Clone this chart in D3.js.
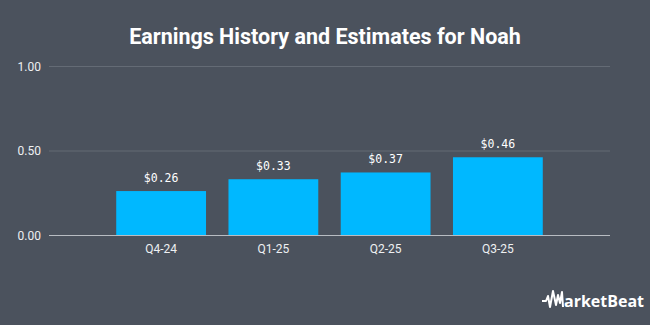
<!DOCTYPE html>
<html>
<head>
<meta charset="utf-8">
<script src="https://cdn.jsdelivr.net/npm/d3@7"></script>
<style>
  html, body { margin: 0; padding: 0; background: #4b525d; }
  svg { display: block; }
</style>
</head>
<body>
<div id="chart"></div>
<script>
const quarters = ["Q4-24", "Q1-25", "Q2-25", "Q3-25"];
const eps = [0.26, 0.33, 0.37, 0.46];
const yTicks = [0, 0.5, 1.0];

const width = 650, height = 325;
const svg = d3.select("#chart").append("svg")
    .attr("width", width)
    .attr("height", height);

svg.append("rect").attr("width", width).attr("height", height).attr("fill", "#4b525d");

svg.append("text")
    .attr("x", width / 2)
    .attr("y", 44)
    .attr("text-anchor", "middle")
    .attr("fill", "#ffffff")
    .style("font-family", "Roboto, 'Liberation Sans', sans-serif")
    .style("font-weight", "bold")
    .style("font-size", "21.5px")
    .text("Earnings History and Estimates for Noah");

const xScale = d3.scaleBand()
    .domain(quarters)
    .range([105, 554])
    .paddingInner(0.2)
    .paddingOuter(0.1);

const yScale = d3.scaleLinear()
    .domain([0, 1])
    .range([235, 66]);

// gridlines
svg.append("g").selectAll("line")
    .data(yTicks.filter(d => d > 0))
    .enter().append("line")
    .attr("x1", 49).attr("x2", 610)
    .attr("y1", d => yScale(d) + 0.5).attr("y2", d => yScale(d) + 0.5)
    .attr("stroke", "#646b75")
    .attr("stroke-width", 1);

// y labels
svg.append("g").selectAll("text")
    .data(yTicks)
    .enter().append("text")
    .attr("x", 41)
    .attr("y", d => yScale(d) + 4.5)
    .attr("text-anchor", "end")
    .attr("fill", "#eef0f2")
    .style("font-family", "Roboto, 'Liberation Sans', sans-serif")
    .style("font-size", "12px")
    .text(d => d3.format(".2f")(d));

// bars
svg.append("g").selectAll("rect")
    .data(eps)
    .enter().append("rect")
    .attr("x", (d, i) => xScale(quarters[i]))
    .attr("y", d => yScale(d))
    .attr("width", xScale.bandwidth())
    .attr("height", d => yScale(0) - yScale(d))
    .attr("fill", "#00b8ff");

// value labels
svg.append("g").selectAll("text")
    .data(eps)
    .enter().append("text")
    .attr("x", (d, i) => xScale(quarters[i]) + xScale.bandwidth() / 2)
    .attr("y", d => yScale(d) - 9)
    .attr("text-anchor", "middle")
    .attr("fill", "#ffffff")
    .style("font-family", "'DejaVu Sans Mono', monospace")
    .style("font-size", "11.5px")
    .text(d => "$" + d3.format(".2f")(d));

// baseline
svg.append("line")
    .attr("x1", 49).attr("x2", 610)
    .attr("y1", yScale(0) + 0.5).attr("y2", yScale(0) + 0.5)
    .attr("stroke", "#b8bcc2")
    .attr("stroke-width", 1);

// x labels
const xAxis = d3.axisBottom(xScale).tickSize(0).tickPadding(9);
const xg = svg.append("g")
    .attr("transform", `translate(0,${yScale(0)})`)
    .call(xAxis);
xg.select(".domain").remove();
xg.selectAll("text")
    .attr("fill", "#eef0f2")
    .style("font-family", "Roboto, 'Liberation Sans', sans-serif")
    .style("font-size", "12px");

// MarketBeat logo
const logo = svg.append("g").attr("transform", "translate(542,301)");
logo.append("path")
    .attr("d", "M0,0 L4,0 L6,-5 L8,6 L11,-10 L14,4 L16,-6 L18,2 L20,-9 L21,6")
    .attr("fill", "none")
    .attr("stroke", "#ffffff")
    .attr("stroke-width", 2)
    .attr("stroke-linejoin", "round");
logo.append("text")
    .attr("x", 22)
    .attr("y", 6)
    .attr("fill", "#ffffff")
    .style("font-family", "'Open Sans', 'Liberation Sans', sans-serif")
    .style("font-weight", "bold")
    .style("font-size", "16px")
    .text("arketBeat");
</script>
</body>
</html>
